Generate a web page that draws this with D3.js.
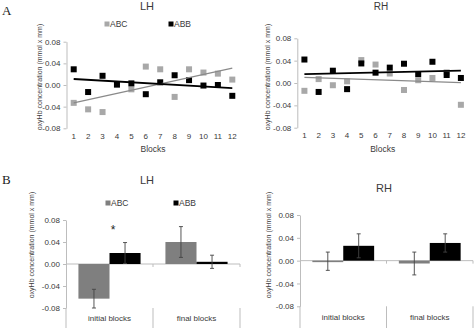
<!DOCTYPE html>
<html><head><meta charset="utf-8">
<script src="https://cdn.jsdelivr.net/npm/d3@7"></script>
<style>
body{margin:0;background:#fff;}
svg{display:block;font-family:"Liberation Sans",Arial,sans-serif;}
</style></head>
<body><svg id="c" width="474" height="328"></svg>
<script>
// ---------- data ----------
const blocks = [1,2,3,4,5,6,7,8,9,10,11,12];
const seriesNames = ["ABC","ABB"];
const lhABC = [-0.033,-0.045,-0.050,0.000,-0.008,0.034,0.029,-0.022,0.029,0.023,0.021,0.010];
const lhABB = [0.029,-0.013,0.017,0.001,0.003,-0.017,0.005,0.018,0.009,-0.001,0.000,-0.020];
const rhABC = [-0.014,0.007,-0.004,0.003,0.041,0.033,0.017,-0.0125,0.005,0.009,0.019,-0.039];
const rhABB = [0.042,-0.016,0.022,-0.011,0.035,0.0185,0.0275,0.0345,0.016,0.038,0.0143,0.009];
const phases = ["initial blocks","final blocks"];
const lhBarABC = [-0.063,0.040];
const lhBarABB = [0.020,0.004];
const lhErrABC = [0.017,0.028];
const lhErrABB = [0.019,0.012];
const rhBarABC = [-0.001,-0.005];
const rhBarABB = [0.026,0.031];
const rhErrABC = [0.016,0.020];
const rhErrABB = [0.021,0.016];
const yTicks = [-0.08,-0.04,0,0.04,0.08];
const yTitle = "oxyHb concentration (mmol x mm)";

// ---------- drawing ----------
const svg = d3.select("#c");
const fmt = d => d.toFixed(2);
const grayMark = "#a8a8a8", grayBar = "#7f7f7f", axisCol = "#bdbdbd", txt = "#3a3a3a";

function yAxis(g, y, x0) {
  const a = g.append("g").attr("transform", `translate(${x0},0)`)
    .call(d3.axisLeft(y).tickValues(yTicks).tickFormat(fmt).tickSize(3).tickSizeOuter(0).tickPadding(3));
  a.selectAll("path,line").attr("stroke", axisCol);
  a.selectAll("text").attr("fill", txt).style("font-size", "8px").style("font-family", "Liberation Sans, Arial, sans-serif");
  return a;
}
function yLabel(x, yc) {
  svg.append("text").attr("transform", `translate(${x},${yc}) rotate(-90)`)
    .attr("text-anchor", "middle").attr("fill", txt).style("font-size", "7px").text(yTitle);
}
function legend(x1, x2, y, gcol) {
  [[x1, gcol, seriesNames[0]], [x2, "#000", seriesNames[1]]].forEach(([x, c, t]) => {
    svg.append("rect").attr("x", x - 2.5).attr("y", y - 2.5).attr("width", 5).attr("height", 5).attr("fill", c);
    svg.append("text").attr("x", x + 3).attr("y", y + 3).attr("fill", txt).style("font-size", "8.5px").text(t);
  });
}
function title(t, x, y, fs) {
  svg.append("text").attr("x", x).attr("y", y).attr("text-anchor", "middle").attr("fill", txt).style("font-size", fs || "11px").text(t);
}
function regress(vals) {
  const mx = d3.mean(blocks), my = d3.mean(vals);
  let sxy = 0, sxx = 0;
  blocks.forEach((b, i) => { sxy += (b - mx) * (vals[i] - my); sxx += (b - mx) ** 2; });
  const s = sxy / sxx;
  return b => my + s * (b - mx);
}

function scatterPanel(cfg) {
  const x = d3.scaleBand().domain(blocks).range([cfg.x0, cfg.x1]);
  const y = d3.scaleLinear().domain([-0.08, 0.08]).range([cfg.yb, cfg.yt]);
  const g = svg.append("g");
  yAxis(g, y, cfg.x0);
  const xa = g.append("g").attr("transform", `translate(0,${cfg.yb})`)
    .call(d3.axisBottom(x).tickSize(0).tickPadding(5));
  xa.select(".domain").remove();
  xa.selectAll("text").attr("fill", txt).style("font-size", "8px").style("font-family", "Liberation Sans, Arial, sans-serif");
  const cx = b => x(b) + x.bandwidth() / 2;
  const sz = 6;
  [[cfg.abc, grayMark], [cfg.abb, "#000"]].forEach(([vals, c]) => {
    g.selectAll(null).data(vals).enter().append("rect")
      .attr("x", (d, i) => cx(blocks[i]) - sz / 2).attr("y", d => y(d) - sz / 2)
      .attr("width", sz).attr("height", sz).attr("fill", c);
  });
  [[cfg.abc, "#8a8a8a", 1.3], [cfg.abb, "#000", 1.8]].forEach(([vals, c, w]) => {
    const f = regress(vals);
    const b0 = blocks[0], b1 = blocks[blocks.length - 1];
    g.append("line").attr("x1", cx(b0)).attr("y1", y(f(b0))).attr("x2", cx(b1)).attr("y2", y(f(b1)))
      .attr("stroke", c).attr("stroke-width", w);
  });
  svg.append("text").attr("x", (cfg.x0 + cfg.x1) / 2).attr("y", cfg.yb + 24).attr("text-anchor", "middle")
    .attr("fill", txt).style("font-size", "8.5px").text("Blocks");
}

function barPanel(cfg) {
  const x = d3.scaleBand().domain(phases).range([cfg.x0, cfg.x1]);
  const xs = d3.scaleBand().domain(seriesNames).range([0, x.bandwidth()]).paddingOuter(0.4).paddingInner(0);
  const y = d3.scaleLinear().domain([-0.08, 0.08]).range([cfg.yb, cfg.yt]);
  const g = svg.append("g");
  yAxis(g, y, cfg.x0);
  g.append("line").attr("x1", cfg.x0).attr("x2", cfg.x0).attr("y1", cfg.yb).attr("y2", 328).attr("stroke", axisCol);
  g.append("line").attr("x1", cfg.x0).attr("x2", cfg.x1).attr("y1", y(0)).attr("y2", y(0)).attr("stroke", axisCol);
  phases.forEach(p => {
    const xe = x(p) + x.bandwidth();
    g.append("line").attr("x1", xe).attr("x2", xe).attr("y1", y(0)).attr("y2", y(0) + 3).attr("stroke", axisCol);
    g.append("line").attr("x1", xe).attr("x2", xe).attr("y1", cfg.yb).attr("y2", 328).attr("stroke", axisCol);
    g.append("text").attr("x", x(p) + x.bandwidth() / 2).attr("y", cfg.labY).attr("text-anchor", "middle")
      .attr("fill", txt).style("font-size", "8px").text(p);
  });
  const sets = [[cfg.abc, cfg.eabc, grayBar, seriesNames[0]], [cfg.abb, cfg.eabb, "#000", seriesNames[1]]];
  sets.forEach(([vals, errs, c, s]) => {
    vals.forEach((v, i) => {
      const bx = x(phases[i]) + xs(s);
      const h = Math.max(Math.abs(y(v) - y(0)), 1.5);
      g.append("rect").attr("x", bx).attr("y", v >= 0 ? y(v) : y(0)).attr("width", xs.bandwidth())
        .attr("height", h).attr("fill", c);
    });
  });
  sets.forEach(([vals, errs, c, s]) => {
    vals.forEach((v, i) => {
      const ex = x(phases[i]) + xs(s) + xs.bandwidth() / 2;
      const yt = y(v + errs[i]), ybt = y(v - errs[i]);
      g.append("line").attr("x1", ex).attr("x2", ex).attr("y1", yt).attr("y2", ybt).attr("stroke", "#444").attr("stroke-width", 0.9);
      [yt, ybt].forEach(yy => g.append("line").attr("x1", ex - 2).attr("x2", ex + 2).attr("y1", yy).attr("y2", yy)
        .attr("stroke", "#444").attr("stroke-width", 0.9));
    });
  });
}

// Panel A
svg.append("text").attr("x", 2).attr("y", 15).style("font-family", "Liberation Serif, Times New Roman, serif").style("font-size", "13px").attr("fill", "#222").text("A");
title("LH", 147, 10);
title("RH", 381, 10, "10px");
legend(107, 171, 24, grayMark);
scatterPanel({x0: 66.5, x1: 239.5, yt: 41.7, yb: 128.3, abc: lhABC, abb: lhABB});
scatterPanel({x0: 297.3, x1: 468, yt: 38.3, yb: 127.7, abc: rhABC, abb: rhABB});
yLabel(42, 77);
yLabel(270, 77);

// Panel B
svg.append("text").attr("x", 2).attr("y", 184).style("font-family", "Liberation Serif, Times New Roman, serif").style("font-size", "13px").attr("fill", "#222").text("B");
title("LH", 147, 184);
title("RH", 384, 192);
legend(108, 176, 203, grayBar);
svg.append("text").attr("x", 113).attr("y", 234).attr("text-anchor", "middle").style("font-size", "12px").attr("fill", "#222").text("*");
barPanel({x0: 66, x1: 240, yt: 220, yb: 308, labY: 321, abc: lhBarABC, abb: lhBarABB, eabc: lhErrABC, eabb: lhErrABB});
barPanel({x0: 300, x1: 473, yt: 215, yb: 306.3, labY: 320, abc: rhBarABC, abb: rhBarABB, eabc: rhErrABC, eabb: rhErrABB});
yLabel(34, 245);
yLabel(271, 245);
</script></body></html>
